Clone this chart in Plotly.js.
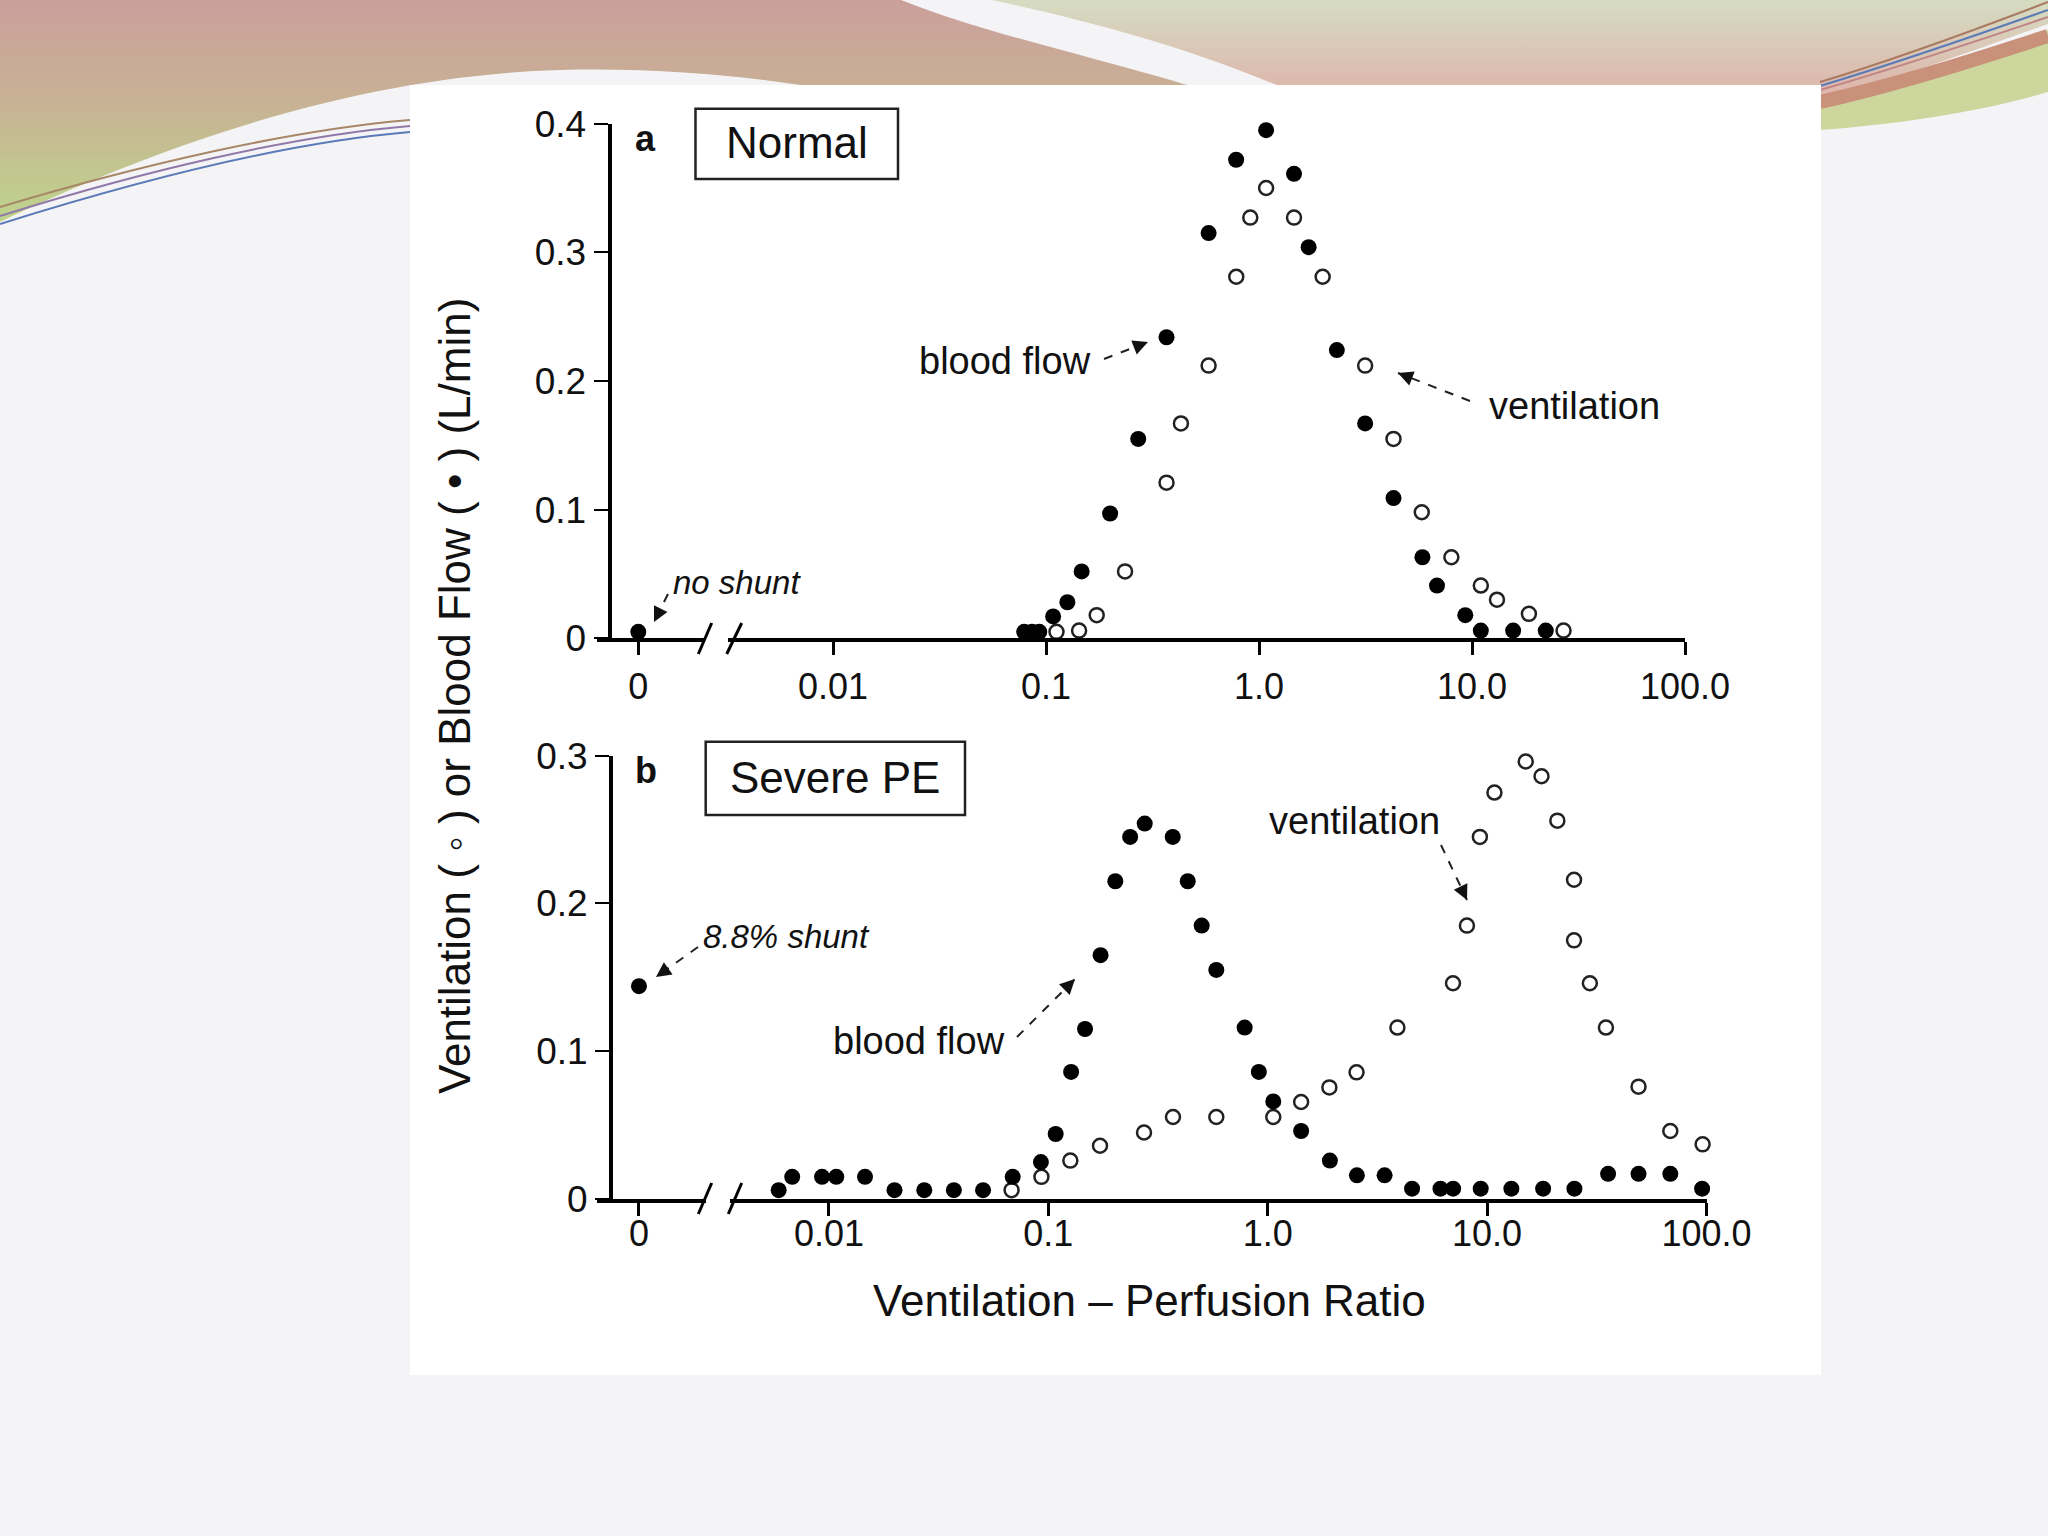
<!DOCTYPE html>
<html>
<head>
<meta charset="utf-8">
<script src="https://cdn.plot.ly/plotly-3.0.1.min.js"></script>
<style>
  html, body { margin: 0; padding: 0; width: 2048px; height: 1536px; overflow: hidden; background: #f4f4f6; }
  #slide { position: absolute; left: 0; top: 0; }
  #chart { position: absolute; left: 0; top: 0; width: 2048px; height: 1536px; }
</style>
</head>
<body>
<!-- slide backdrop: coloured swooshes across the top and the white card behind the figure -->
<svg id="slide" width="2048" height="1536" viewBox="0 0 2048 1536">
  <defs>
    <linearGradient id="leftBand" gradientUnits="userSpaceOnUse" x1="0" y1="0" x2="0" y2="230">
      <stop offset="0" stop-color="#cb9f9c"/>
      <stop offset="0.45" stop-color="#c8b294"/>
      <stop offset="1" stop-color="#bdd78b"/>
    </linearGradient>
    <linearGradient id="rightBand" gradientUnits="userSpaceOnUse" x1="0" y1="0" x2="0" y2="100">
      <stop offset="0" stop-color="#d5dcc1"/>
      <stop offset="1" stop-color="#dfb2aa"/>
    </linearGradient>
  </defs>
  <rect x="0" y="0" width="2048" height="1536" fill="#f4f4f6"/>
  <path d="M0,0 L901,0 C1000,40 1150,68 1262,110 L860,110 L860,95 C780,80 680,67 560,70 C350,76 150,150 0,222 Z" fill="url(#leftBand)"/>
  <path d="M992,0 C1083,20 1175,43 1279,86 L1820,86 L1820,98 C1900,78 1980,48 2048,24 L2048,0 Z" fill="url(#rightBand)"/>
  <path d="M1820,100 C1900,84 1980,56 2048,30 L2048,92 C1980,112 1900,124 1820,130 Z" fill="#cdd69c"/>
  <path d="M1820,102 C1900,84 1980,58 2048,36" stroke="#c9917a" stroke-width="14" fill="none"/>
  <path d="M1820,82 C1900,58 1980,28 2048,2" stroke="#a87a62" stroke-width="2" fill="none"/>
  <path d="M1820,86 C1900,62 1980,34 2048,10" stroke="#5a7ab8" stroke-width="2" fill="none"/>
  <path d="M1820,90 C1900,67 1980,40 2048,17" stroke="#c08484" stroke-width="2" fill="none"/>
  <path d="M0,207 C140,165 290,130 410,120" stroke="#a88668" stroke-width="2" fill="none"/>
  <path d="M0,216 C140,172 290,136 410,126" stroke="#9078a8" stroke-width="2" fill="none"/>
  <path d="M0,224 C140,180 290,142 410,132" stroke="#5a7ab8" stroke-width="2" fill="none"/>
  <rect x="410" y="85" width="1411" height="1290" fill="#ffffff"/>
</svg>
<div id="chart"></div>
<script>
// ---- Panel a: normal lung ----
const normalShuntVQ = [0];
const normalShunt = [0.005];
const normalFlowVQ = [0.079, 0.086, 0.093, 0.108, 0.126, 0.147, 0.200, 0.271, 0.368, 0.580, 0.781, 1.08, 1.46, 1.71, 2.32, 3.15, 4.28, 5.85, 6.85, 9.3, 11.0, 15.6, 22.2];
const normalFlow = [0.005, 0.005, 0.005, 0.017, 0.028, 0.052, 0.097, 0.155, 0.234, 0.315, 0.372, 0.395, 0.361, 0.304, 0.224, 0.167, 0.109, 0.063, 0.041, 0.018, 0.006, 0.006, 0.006];
const normalVentVQ = [0.112, 0.143, 0.173, 0.235, 0.368, 0.430, 0.580, 0.782, 0.910, 1.08, 1.46, 1.99, 3.15, 4.28, 5.81, 8.0, 11.0, 13.1, 18.5, 26.9];
const normalVent = [0.005, 0.006, 0.018, 0.052, 0.121, 0.167, 0.212, 0.281, 0.327, 0.350, 0.327, 0.281, 0.212, 0.155, 0.098, 0.063, 0.041, 0.030, 0.019, 0.006];

// ---- Panel b: severe pulmonary embolism ----
const peShuntVQ = [0];
const peShunt = [0.144];
const peFlowVQ = [0.0059, 0.0068, 0.0093, 0.0108, 0.0146, 0.0199, 0.0272, 0.0371, 0.0504, 0.0688, 0.0925, 0.108, 0.127, 0.147, 0.173, 0.202, 0.236, 0.275, 0.369, 0.432, 0.50, 0.583, 0.785, 0.911, 1.06, 1.42, 1.92, 2.55, 3.41, 4.55, 6.13, 7.0, 9.35, 12.9, 18.0, 25.0, 35.6, 49.0, 68.4, 95.5];
const peFlow = [0.006, 0.015, 0.015, 0.015, 0.015, 0.006, 0.006, 0.006, 0.006, 0.015, 0.025, 0.044, 0.086, 0.115, 0.165, 0.215, 0.245, 0.254, 0.245, 0.215, 0.185, 0.155, 0.116, 0.086, 0.066, 0.046, 0.026, 0.016, 0.016, 0.007, 0.007, 0.007, 0.007, 0.007, 0.007, 0.007, 0.017, 0.017, 0.017, 0.007];
const peVentVQ = [0.068, 0.093, 0.126, 0.172, 0.273, 0.370, 0.583, 1.06, 1.42, 1.91, 2.54, 3.90, 6.99, 8.09, 9.27, 10.8, 15.0, 17.7, 20.9, 24.9, 24.9, 29.4, 34.8, 49.0, 68.4, 96.0];
const peVent = [0.006, 0.015, 0.026, 0.036, 0.045, 0.0555, 0.0555, 0.0555, 0.0656, 0.0755, 0.0857, 0.116, 0.146, 0.185, 0.245, 0.275, 0.296, 0.286, 0.256, 0.216, 0.175, 0.146, 0.116, 0.076, 0.046, 0.037];

// ---- tick labels ----
const vqTickVals = [0.01, 0.1, 1, 10, 100];
const vqTickText = ['0.01', '0.1', '1.0', '10.0', '100.0'];
const shuntTickVals = [0];
const shuntTickText = ['0'];
const flowTicksA = [0, 0.1, 0.2, 0.3, 0.4];
const flowTextA = ['0', '0.1', '0.2', '0.3', '0.4'];
const flowTicksB = [0, 0.1, 0.2, 0.3];
const flowTextB = ['0', '0.1', '0.2', '0.3'];

// ---- page geometry helpers (pixels -> paper fractions) ----
const W = 2048, H = 1536;
const px = v => v / W;
const py = v => 1 - v / H;
const FONT = 'Liberation Sans, Arial, Helvetica, sans-serif';

const axisBase = {
  showline: true, linecolor: '#000', linewidth: 4,
  ticks: 'outside', tickcolor: '#000', tickwidth: 3, ticklen: 13,
  showgrid: false, zeroline: false, fixedrange: true,
  tickfont: { family: FONT, size: 36, color: '#111' }
};

const filled = { symbol: 'circle', size: 16, color: '#000', line: { width: 0 } };
const hollow = { symbol: 'circle-open', size: 14, color: '#222', line: { width: 2.5, color: '#222' } };

function pts(x, y, xa, ya, marker, name) {
  return { type: 'scatter', mode: 'markers', x: x, y: y, xaxis: xa, yaxis: ya, cliponaxis: false,
           marker: marker, name: name, showlegend: false, hoverinfo: 'x+y' };
}

const data = [
  pts(normalVentVQ, normalVent, 'x2', 'y', hollow, 'ventilation'),
  pts(normalFlowVQ, normalFlow, 'x2', 'y', filled, 'blood flow'),
  pts(normalShuntVQ, normalShunt, 'x', 'y', filled, 'shunt'),
  pts(peVentVQ, peVent, 'x4', 'y2', hollow, 'ventilation'),
  pts(peFlowVQ, peFlow, 'x4', 'y2', filled, 'blood flow'),
  pts(peShuntVQ, peShunt, 'x3', 'y2', filled, 'shunt')
];

const shapes = [];
const annotations = [];

// axis break marks "//"
function breakMark(x0, y0, x1, y1) {
  shapes.push({ type: 'line', xref: 'paper', yref: 'paper',
    x0: px(x0), y0: py(y0), x1: px(x1), y1: py(y1), line: { color: '#000', width: 3 } });
}
breakMark(711.7, 623, 698.3, 654); breakMark(741.7, 623, 726.7, 654);
breakMark(711.7, 1183, 698.3, 1214); breakMark(741.7, 1183, 728.3, 1214);

// panel condition boxes
function panelBox(x0, y0, x1, y1, label) {
  shapes.push({ type: 'rect', xref: 'paper', yref: 'paper',
    x0: px(x0), y0: py(y1), x1: px(x1), y1: py(y0),
    line: { color: '#222', width: 2.5 }, fillcolor: '#fff' });
  annotations.push({ xref: 'paper', yref: 'paper', x: px((x0 + x1) / 2), y: py((y0 + y1) / 2 - 1),
    text: label, showarrow: false, xanchor: 'center', yanchor: 'middle',
    font: { family: FONT, size: 44, color: '#111' } });
}
panelBox(695.5, 108.7, 898, 179, 'Normal');
panelBox(705.7, 741.8, 965, 815, 'Severe PE');

function label(x, y, text, size, extra) {
  annotations.push(Object.assign({ xref: 'paper', yref: 'paper', x: px(x), y: py(y), text: text,
    showarrow: false, xanchor: 'center', yanchor: 'middle',
    font: { family: FONT, size: size, color: '#111' } }, extra || {}));
}
label(645, 139, '<b>a</b>', 36);
label(646, 770, '<b>b</b>', 36);
label(1005, 361, 'blood flow', 38);
label(1574, 406, 'ventilation', 38);
label(737, 582, '<i>no shunt</i>', 33);
label(786, 936, '<i>8.8% shunt</i>', 33);
label(919, 1041, 'blood flow', 38);
label(1354, 821, 'ventilation', 38);

// dashed pointer lines with solid heads
function pointer(x0, y0, x1, y1) {
  shapes.push({ type: 'line', xref: 'paper', yref: 'paper',
    x0: px(x0), y0: py(y0), x1: px(x1), y1: py(y1), line: { color: '#222', width: 2, dash: 'dash' } });
  const len = Math.hypot(x0 - x1, y0 - y1);
  annotations.push({ xref: 'paper', yref: 'paper', x: px(x1), y: py(y1),
    ax: (x0 - x1) / len * 14, ay: (y0 - y1) / len * 14, text: '', showarrow: true,
    arrowhead: 2, arrowsize: 1.2, arrowwidth: 2.5, arrowcolor: '#111' });
}
pointer(668, 594, 654, 622);
pointer(1104, 359, 1148, 342);
pointer(1470, 401, 1398, 373);
pointer(698, 947, 656, 977);
pointer(1017, 1037, 1075, 979);
pointer(1441, 845, 1467, 900);

// shared axis titles
label(454, 696, 'Ventilation ( \u25E6 ) or Blood Flow ( \u2022 ) (L/min)', 44, { textangle: -90 });
label(1149, 1300, 'Ventilation \u2013 Perfusion Ratio', 44);

const layout = {
  width: W, height: H,
  margin: { l: 0, r: 0, t: 0, b: 0 },
  paper_bgcolor: 'rgba(0,0,0,0)', plot_bgcolor: 'rgba(0,0,0,0)',
  showlegend: false,
  font: { family: FONT, color: '#111' },
  xaxis: Object.assign({}, axisBase, { domain: [px(597), px(704)], range: [-0.386, 0.614],
    tickvals: shuntTickVals, ticktext: shuntTickText, anchor: 'y' }),
  xaxis2: Object.assign({}, axisBase, { type: 'log', domain: [px(728), px(1685)], range: [-2.493, 2],
    tickvals: vqTickVals, ticktext: vqTickText, anchor: 'y' }),
  xaxis3: Object.assign({}, axisBase, { domain: [px(597), px(706)], range: [-0.385, 0.615],
    tickvals: shuntTickVals, ticktext: shuntTickText, anchor: 'y2', ticklabelstandoff: -13 }),
  xaxis4: Object.assign({}, axisBase, { type: 'log', domain: [px(730), px(1706.5)], range: [-2.451, 2],
    tickvals: vqTickVals, ticktext: vqTickText, anchor: 'y2', ticklabelstandoff: -13 }),
  yaxis: Object.assign({}, axisBase, { domain: [py(638.3), py(123.7)], range: [0, 0.4],
    anchor: 'free', position: px(609.5), tickvals: flowTicksA, ticktext: flowTextA,
    ticklen: 14, tickwidth: 2, tickfont: { family: FONT, size: 37, color: '#111' } }),
  yaxis2: Object.assign({}, axisBase, { domain: [py(1199), py(755.6)], range: [0, 0.3],
    anchor: 'free', position: px(611), tickvals: flowTicksB, ticktext: flowTextB,
    ticklen: 14, tickwidth: 2, tickfont: { family: FONT, size: 37, color: '#111' } }),
  shapes: shapes,
  annotations: annotations
};

Plotly.newPlot('chart', data, layout, { staticPlot: true, displayModeBar: false });
</script>
</body>
</html>
